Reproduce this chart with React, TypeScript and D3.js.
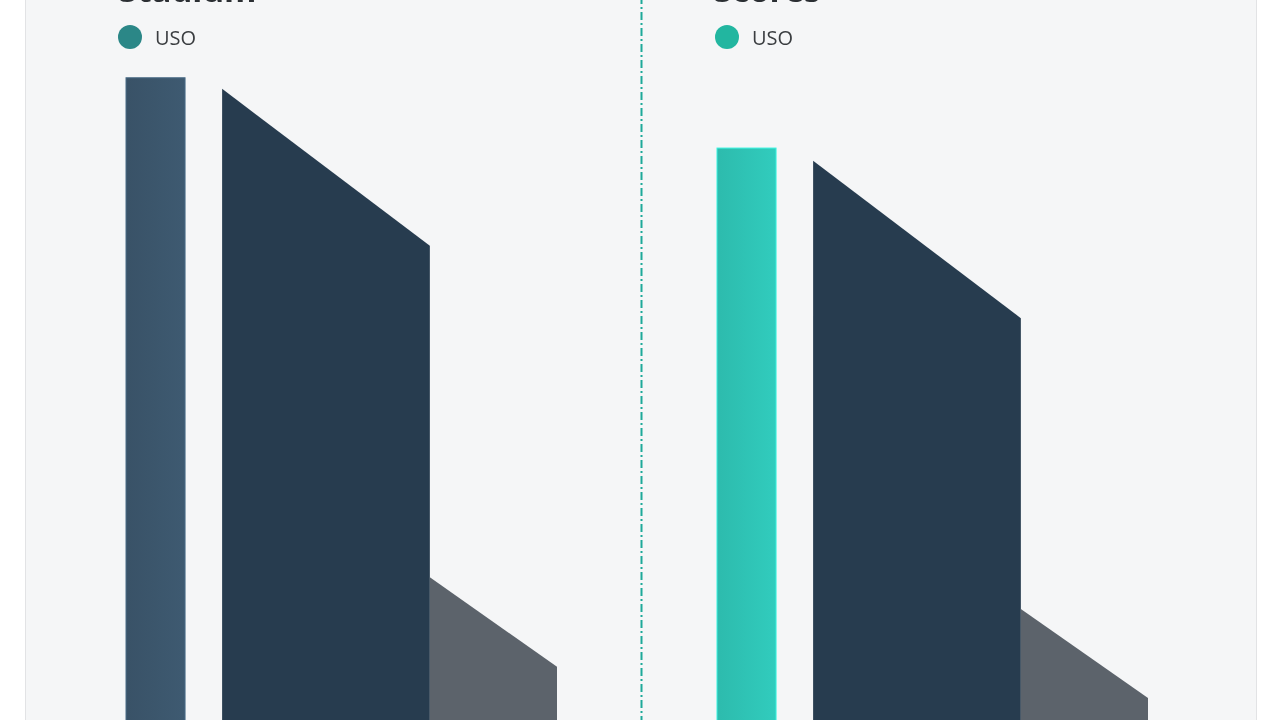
import { useEffect, useRef } from 'react';
import * as d3 from 'd3';

// panel titles (cut off at the top in the reference)
const panelTitles = ['Stadium', 'Scores'];
const legendLabels = ['USO', 'USO'];
const legendColors = ['#2b8787', '#22b6a0'];
const barColors = ['#3c576d', '#2fc5b6'];
const stageColors = ['#273c4f', '#5c636b'];

// bar value per panel
const usoValues = [97.6, 88.1];
// stage values: start (left edge) and end (right edge)
const stageStartValues = [
  [96.1, 30.1],
  [86.4, 25.8],
];
const stageEndValues = [
  [74.9, 18.0],
  [65.1, 13.8],
];

// horizontal spans on a 0-100 track
const barSpan = [0, 13.7];
const stageSpans = [
  [22.3, 70.5],
  [70.5, 100],
];

const W = 1280;
const H = 720;

export default function App() {
  const svgRef = useRef<SVGSVGElement>(null);

  useEffect(() => {
    if (!svgRef.current) return;
    const svg = d3.select(svgRef.current);
    svg.selectAll('*').remove();

    const font = '"Open Sans", "Noto Sans", sans-serif';

    svg.append('rect').attr('width', W).attr('height', H).attr('fill', '#ffffff');
    svg.append('rect')
      .attr('x', 25.5).attr('y', -20)
      .attr('width', 1231).attr('height', H + 60)
      .attr('fill', '#f5f6f7')
      .attr('stroke', '#e2e3e5');

    const yScale = d3.scaleLinear().domain([0, 100]).range([800, 60]);

    const panelOrigins = [126, 717];
    const titleX = [119, 714];
    const legendX = [130, 727];

    const defs = svg.append('defs');

    panelOrigins.forEach((x0, p) => {
      const xScale = d3.scaleLinear().domain([0, 100]).range([x0, x0 + 431]);
      const g = svg.append('g');

      g.append('text')
        .attr('x', titleX[p])
        .attr('y', 1.5)
        .attr('font-family', font)
        .attr('font-size', 33)
        .attr('font-weight', 700)
        .attr('fill', '#2b2f33')
        .text(panelTitles[p]);

      g.append('circle')
        .attr('cx', legendX[p])
        .attr('cy', 37)
        .attr('r', 12)
        .attr('fill', legendColors[p]);
      g.append('text')
        .attr('x', legendX[p] + 25)
        .attr('y', 37)
        .attr('dominant-baseline', 'central')
        .attr('font-family', font)
        .attr('font-size', 20)
        .attr('fill', '#3a3d40')
        .text(legendLabels[p]);

      const gradId = `bar-grad-${p}`;
      const base = d3.color(barColors[p])!;
      defs.append('linearGradient')
        .attr('id', gradId)
        .attr('x1', 0).attr('y1', 0).attr('x2', 1).attr('y2', 0)
        .selectAll('stop')
        .data([
          { offset: '0%', c: base.darker(0.15).formatHex() },
          { offset: '100%', c: base.brighter(0.1).formatHex() },
        ])
        .join('stop')
        .attr('offset', (d) => d.offset)
        .attr('stop-color', (d) => d.c);

      g.append('rect')
        .attr('x', xScale(barSpan[0]))
        .attr('y', yScale(usoValues[p]))
        .attr('width', xScale(barSpan[1]) - xScale(barSpan[0]))
        .attr('height', yScale(0) - yScale(usoValues[p]))
        .attr('fill', `url(#${gradId})`)
        .attr('stroke', base.brighter(0.6).formatHex())
        .attr('stroke-width', 1);

      const area = d3.area<{ x: number; v: number }>()
        .x((d) => xScale(d.x))
        .y0(yScale(0))
        .y1((d) => yScale(d.v));

      stageSpans.forEach((span, s) => {
        const pts = [
          { x: span[0], v: stageStartValues[p][s] },
          { x: span[1], v: stageEndValues[p][s] },
        ];
        g.append('path')
          .datum(pts)
          .attr('d', area)
          .attr('fill', stageColors[s]);
      });
    });

    svg.append('line')
      .attr('x1', 641.5).attr('x2', 641.5)
      .attr('y1', -20).attr('y2', H + 20)
      .attr('stroke', '#1ea99a')
      .attr('stroke-width', 2)
      .attr('stroke-dasharray', '8 3 2 3');
  }, []);

  return (
    <div style={{ position: 'fixed', left: 0, top: 0, width: W, height: H, overflow: 'hidden' }}>
      <svg ref={svgRef} width={W} height={H} style={{ display: 'block' }} />
    </div>
  );
}
